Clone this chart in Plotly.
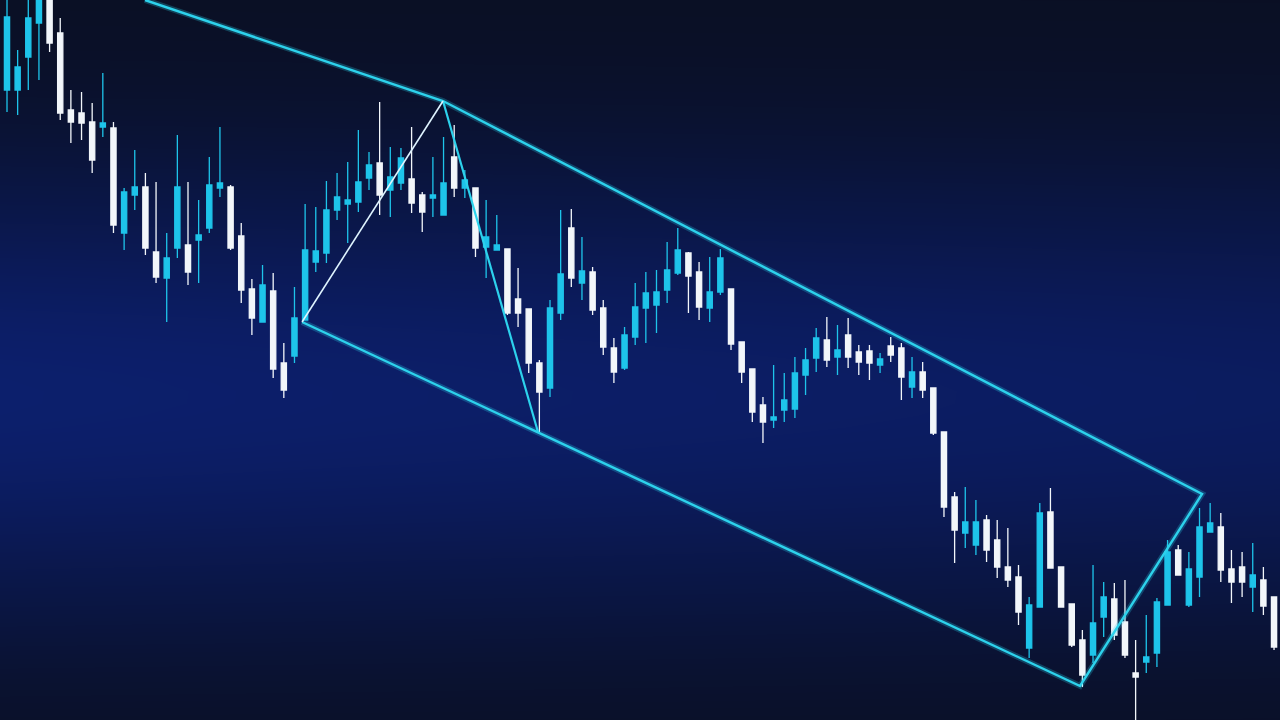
import numpy as np
import plotly.graph_objects as go

# ---- candle data (price units) ----
opens = [630, 630, 663, 697, 725, 687, 610, 607, 598, 593,
         592, 487, 525, 533, 468, 442, 472, 475, 480, 492,
         532, 533, 484, 431, 398, 429, 357, 364, 400, 458,
         467, 510, 516, 518, 542, 557, 530, 537, 541, 525,
         522, 505, 563, 532, 532, 473, 470, 471, 421, 411,
         357, 332, 407, 492, 437, 448, 412, 372, 352, 383,
         412, 415, 430, 447, 467, 448, 412, 428, 431, 378,
         351, 315, 300, 310, 311, 345, 362, 380, 363, 385,
         368, 369, 355, 374, 372, 333, 348, 332, 288, 223,
         187, 175, 200, 180, 153, 143, 72, 113, 208, 153,
         116, 80, 65, 103, 121, 98, 47, 58, 67, 115,
         170, 115, 143, 188, 193, 151, 153, 133, 140, 123]
highs = [728, 670, 722, 735, 735, 702, 630, 628, 617, 647,
         598, 532, 570, 547, 538, 487, 585, 538, 520, 563,
         593, 535, 497, 441, 455, 447, 377, 433, 516, 513,
         539, 547, 558, 590, 568, 618, 573, 572, 593, 528,
         563, 583, 595, 550, 532, 520, 505, 471, 452, 411,
         360, 420, 510, 511, 483, 453, 420, 382, 393, 437,
         448, 450, 478, 492, 468, 458, 463, 471, 431, 378,
         351, 323, 355, 347, 363, 372, 392, 403, 395, 402,
         375, 375, 367, 383, 377, 363, 358, 332, 288, 228,
         233, 220, 205, 200, 192, 155, 123, 217, 232, 153,
         116, 90, 155, 138, 137, 140, 80, 105, 122, 180,
         175, 168, 212, 217, 207, 170, 168, 177, 153, 123]
lows = [608, 605, 630, 640, 668, 600, 577, 580, 547, 583,
        487, 470, 510, 465, 437, 398, 462, 435, 437, 487,
        523, 470, 417, 385, 398, 342, 322, 357, 400, 448,
        457, 500, 477, 508, 530, 505, 503, 530, 507, 488,
        503, 505, 523, 522, 463, 442, 470, 405, 393, 347,
        288, 323, 400, 433, 420, 405, 365, 337, 350, 375,
        377, 387, 417, 445, 407, 400, 398, 425, 370, 337,
        298, 277, 292, 298, 302, 325, 348, 353, 345, 352,
        345, 340, 347, 358, 320, 322, 322, 285, 203, 157,
        172, 165, 158, 142, 133, 95, 62, 113, 152, 113,
        73, 33, 57, 83, 80, 62, -5, 47, 53, 115,
        145, 113, 123, 188, 138, 117, 123, 108, 105, 70]
closes = [703, 653, 702, 725, 677, 607, 598, 597, 560, 597,
          495, 528, 533, 472, 443, 462, 533, 448, 485, 535,
          537, 472, 430, 402, 435, 351, 330, 402, 470, 469,
          510, 523, 520, 538, 555, 525, 543, 562, 517, 508,
          525, 537, 532, 540, 472, 483, 475, 407, 407, 357,
          328, 412, 446, 442, 449, 410, 373, 348, 385, 413,
          427, 428, 450, 470, 444, 413, 428, 462, 376, 348,
          308, 298, 303, 320, 347, 360, 382, 360, 370, 363,
          358, 357, 361, 365, 343, 348, 330, 287, 213, 190,
          198, 198, 170, 153, 140, 108, 115, 207, 152, 113,
          75, 45, 97, 123, 85, 65, 43, 63, 118, 168,
          145, 151, 193, 197, 150, 138, 138, 145, 114, 73]
bars = list(range(len(opens)))

# ---- drawn channel / pattern lines (bar index, price) ----
channel_x = [12.96, 40.95, 112.24, 100.78, 27.71]
channel_y = [720, 619, 226, 34, 398]
leg_up_x = [27.71, 40.95]
leg_up_y = [398, 619]
leg_down_x = [40.95, 49.87]
leg_down_y = [619, 288]

X_MIN, X_MAX = -0.657, 119.56
Y_MIN, Y_MAX = 0, 720

CYAN = "#1ec4ea"
WHITE = "#f2f6fa"
LINE = "#2dd2ec"

# background gradient field (style only)
gx = np.linspace(X_MIN, X_MAX, 48)
gy = np.linspace(Y_MIN, Y_MAX, 60)
U, V = np.meshgrid((gx - X_MIN) / (X_MAX - X_MIN), (gy - Y_MIN) / (Y_MAX - Y_MIN))
Z = np.exp(-((V - 0.45) / 0.30) ** 2) * (1 - 0.2 * U)

fig = go.Figure()
fig.add_trace(go.Heatmap(
    x=gx, y=gy, z=Z, zsmooth="best", showscale=False, hoverinfo="skip",
    colorscale=[[0, "#0a0f22"], [0.35, "#0a1540"], [0.7, "#0b1a58"], [1, "#0c1f6c"]],
    zmin=0, zmax=1,
))
fig.add_trace(go.Candlestick(
    x=bars, open=opens, high=highs, low=lows, close=closes,
    increasing=dict(line=dict(color=CYAN, width=1.3), fillcolor=CYAN),
    decreasing=dict(line=dict(color=WHITE, width=1.3), fillcolor=WHITE),
    whiskerwidth=0, showlegend=False,
))
# glow + lines
fig.add_trace(go.Scatter(x=channel_x, y=channel_y, mode="lines",
                         line=dict(color="rgba(45,210,240,0.25)", width=6), hoverinfo="skip", showlegend=False))
fig.add_trace(go.Scatter(x=channel_x, y=channel_y, mode="lines",
                         line=dict(color=LINE, width=2.4), hoverinfo="skip", showlegend=False))
fig.add_trace(go.Scatter(x=leg_down_x, y=leg_down_y, mode="lines",
                         line=dict(color=LINE, width=2.2), hoverinfo="skip", showlegend=False))
fig.add_trace(go.Scatter(x=leg_up_x, y=leg_up_y, mode="lines",
                         line=dict(color="#dff4ff", width=1.6), hoverinfo="skip", showlegend=False))

fig.update_layout(
    width=1280, height=720,
    margin=dict(l=0, r=0, t=0, b=0),
    paper_bgcolor="#0a1540", plot_bgcolor="#0a1540",
    showlegend=False,
    boxgap=0.3,
    xaxis=dict(range=[X_MIN, X_MAX], visible=False, rangeslider=dict(visible=False), fixedrange=True),
    yaxis=dict(range=[Y_MIN, Y_MAX], visible=False, fixedrange=True),
)
fig.write_html("out.html", config={"displayModeBar": False},
               post_script="document.body.style.margin='0';document.body.style.overflow='hidden';")
